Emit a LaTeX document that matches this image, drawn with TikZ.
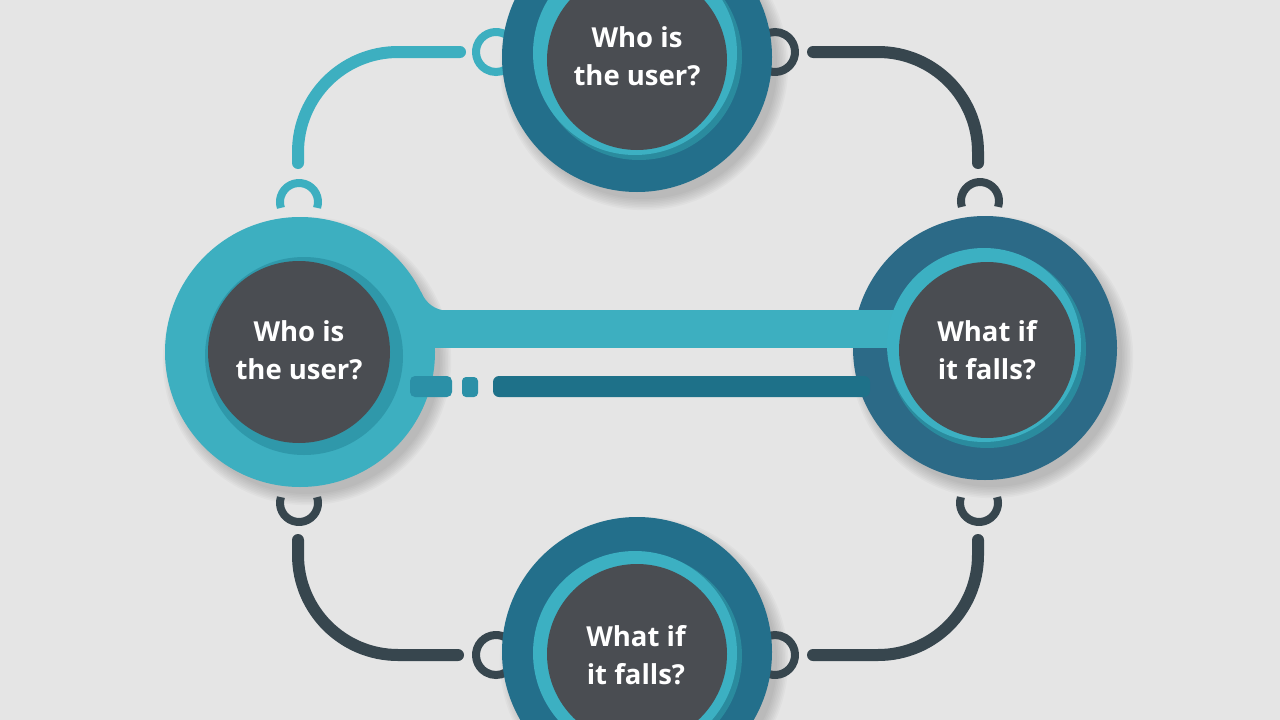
\documentclass[tikz,border=0pt]{standalone}
\usepackage{fontspec}
\newfontfamily\lblfont{Open Sans}
\definecolor{bgc}{HTML}{E5E5E5}
\definecolor{lteal}{HTML}{3DAFC0}
\definecolor{barteal}{HTML}{3DAFC0}
\definecolor{deepteal}{HTML}{236F8B}
\definecolor{rteal}{HTML}{2C6A87}
\definecolor{ringteal}{HTML}{3CB0C2}
\definecolor{ringshade}{HTML}{2A8B9E}
\definecolor{coreg}{HTML}{4A4D52}
\definecolor{slate}{HTML}{37464E}
\definecolor{lowbar}{HTML}{1E7189}
\definecolor{chip}{HTML}{2B90A7}
\definecolor{lshade}{HTML}{2F98AA}
\tikzset{
  conn/.style={line width=12pt, line cap=round, rounded corners=100pt},
  hook/.style={line width=8pt},
  disc/.style={circle, inner sep=0pt, outer sep=0pt, draw=none},
  qtext/.style={text=white, align=center, inner sep=0pt,
    font=\lblfont\bfseries\fontsize{27.5}{38}\selectfont},
}
\newcommand{\softshadow}[3]{%
  \foreach \k in {0,...,7}{\fill[black, opacity=0.022] (#1+7,#2+9) circle ({#3pt+\k*1.6pt});}}
\begin{document}
\begin{tikzpicture}[x=1pt,y=-1pt]
\useasboundingbox (0,0) rectangle (1280,720);
\fill[bgc] (0,0) rectangle (1280,720);

% soft shadows
\softshadow{637}{57}{133}
\softshadow{300}{352}{133}
\softshadow{985}{348}{130}
\softshadow{637}{652}{133}

% connector end points
\coordinate (tlA) at (460,52);  \coordinate (tlK) at (298,52);  \coordinate (tlB) at (298,163);
\coordinate (trA) at (813,52);  \coordinate (trK) at (978,52);  \coordinate (trB) at (978,163);
\coordinate (blA) at (298,540); \coordinate (blK) at (298,655); \coordinate (blB) at (458,655);
\coordinate (brA) at (978,540); \coordinate (brK) at (978,655); \coordinate (brB) at (813,655);

\draw[conn, lteal] (tlA) -- (tlK) -- (tlB);
\draw[conn, slate] (trA) -- (trK) -- (trB);
\draw[conn, slate] (blA) -- (blK) -- (blB);
\draw[conn, slate] (brA) -- (brK) -- (brB);

% hooks
\coordinate (hTL) at (496,52);  \coordinate (hTR) at (775,52);
\coordinate (hBL) at (496,655); \coordinate (hBR) at (775,655);
\coordinate (aL1) at (299,202); \coordinate (aR1) at (980,201);
\coordinate (aL2) at (299,503); \coordinate (aR2) at (979,503);
\draw[hook, lteal] ([shift={(60:20pt)}]hTL) arc[start angle=60, end angle=300, radius=20pt];
\draw[hook, slate] ([shift={(-120:20pt)}]hTR) arc[start angle=-120, end angle=120, radius=20pt];
\draw[hook, slate] ([shift={(60:20pt)}]hBL) arc[start angle=60, end angle=300, radius=20pt];
\draw[hook, slate] ([shift={(-120:20pt)}]hBR) arc[start angle=-120, end angle=120, radius=20pt];
\draw[hook, lteal] ([shift={(-18:19pt)}]aL1) arc[start angle=-18, end angle=198, radius=19pt];
\draw[hook, slate] ([shift={(-18:19pt)}]aR1) arc[start angle=-18, end angle=198, radius=19pt];
\draw[hook, slate] ([shift={(162:19pt)}]aL2) arc[start angle=162, end angle=378, radius=19pt];
\draw[hook, slate] ([shift={(162:19pt)}]aR2) arc[start angle=162, end angle=378, radius=19pt];

% ---------- top node
\node[disc, fill=deepteal, minimum size=270pt] (topO) at (637,57) {};
\node[disc, fill=ringshade, minimum size=206pt] (topS) at (639,57) {};
\node[disc, fill=ringteal, minimum size=204pt] (topR) at (635,53) {};
\node[disc, fill=coreg, minimum size=180pt] (topC) at (637,60) {};
\node[qtext] (topT) at (637,56) {Who is\\the user?};

% ---------- bottom node
\node[disc, fill=deepteal, minimum size=270pt] (botO) at (637,652) {};
\node[disc, fill=ringshade, minimum size=206pt] (botS) at (639,656) {};
\node[disc, fill=ringteal, minimum size=204pt] (botR) at (635,653) {};
\node[disc, fill=coreg, minimum size=180pt] (botC) at (637,654) {};
\node[qtext] (botT) at (636,655) {What if\\it falls?};

% ---------- right node outer
\node[disc, fill=rteal, minimum size=264pt] (rightO) at (985,348) {};

% ---------- left node outer
\node[disc, fill=lteal, minimum size=270pt] (leftO) at (300,352) {};

% bars
\fill[barteal] (400,310) rectangle (900,348);
\fill[barteal] (412,292) -- (412,311) -- (448,311) .. controls (434,310) and (426,303) .. (421,292) -- cycle;
\fill[lowbar, rounded corners=6pt] (493,376) rectangle (870,397);
\fill[chip, rounded corners=4pt] (462,377) rectangle (478,397);
\fill[chip, rounded corners=5pt] (410,376) rectangle (452,397);

% ---------- right node inner
\node[disc, fill=ringshade, minimum size=198pt] (rightS) at (987,349) {};
\node[disc, fill=ringteal, minimum size=194pt] (rightR) at (984,345) {};
\node[disc, fill=coreg, minimum size=176pt] (rightC) at (987,350) {};
\node[qtext] (rightT) at (987,350) {What if\\it falls?};

% ---------- left node inner
\node[disc, fill=lshade, minimum size=198pt] (leftS) at (304,356) {};
\node[disc, fill=coreg, minimum size=182pt] (leftC) at (299,352) {};
\node[qtext] (leftT) at (299,350) {Who is\\the user?};
\end{tikzpicture}
\end{document}
